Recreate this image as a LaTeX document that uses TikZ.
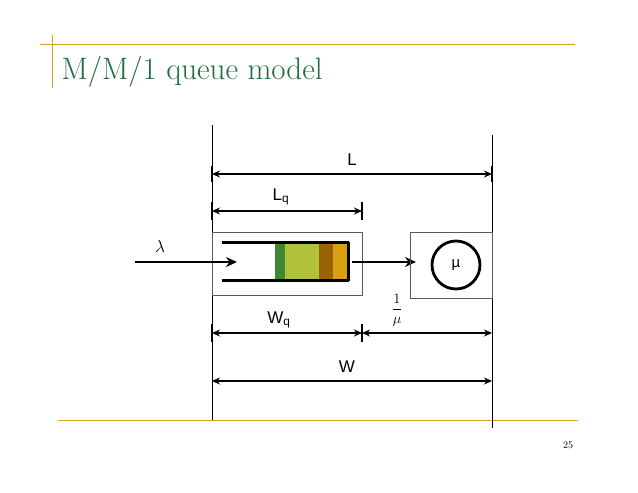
\documentclass[tikz,border=0pt]{standalone}
\usepackage{fontspec}
\newfontfamily\sans{Liberation Sans}
\usetikzlibrary{arrows.meta}
\definecolor{gold}{HTML}{D4A017}
\definecolor{ttl}{HTML}{1E6B3C}
\definecolor{qa}{HTML}{3C8A36}
\definecolor{qb}{HTML}{B0C23A}
\definecolor{qc}{HTML}{9A6200}
\definecolor{qd}{HTML}{D8A010}
\begin{document}
\begin{tikzpicture}[x=1pt,y=-1pt,
 dim/.style={line width=1.6pt,{Stealth[length=8pt,width=7pt]}-{Stealth[length=8pt,width=7pt]}},
 tick/.style={line width=1.6pt},
 lab/.style={font=\sans\fontsize{17}{17}\selectfont},
 box/.style={draw=gray!70!black,line width=0.6pt}]
\useasboundingbox (0,0) rectangle (638,493);
% slide frame
\draw[gold,line width=0.8pt] (40,44) -- (575,44);
\draw[gold,line width=0.8pt] (52,35) -- (52,88);
\draw[gold,line width=0.8pt] (58,420) -- (578,420);
\node[anchor=west,text=ttl,font=\fontsize{31}{31}\selectfont] (title) at (58,72) {M/M/1 queue model};
\node[font=\fontsize{10}{10}\selectfont] (pg) at (568,445) {25};
% verticals
\coordinate (v1t) at (212,125); \coordinate (v1b) at (212,420);
\coordinate (v2t) at (492,135); \coordinate (v2b) at (492,428);
\draw[line width=0.8pt] (v1t) -- (v1b); \draw[line width=0.8pt] (v2t) -- (v2b);
% L
\coordinate (La) at (212,174); \coordinate (Lb) at (492,174);
\draw[dim] (La) -- (Lb);
\draw[tick] (212,166) -- (212,182); \draw[tick] (492,166) -- (492,182);
\node[lab] (L) at (352,160) {L};
% Lq
\coordinate (Lqa) at (212,211); \coordinate (Lqb) at (362,211);
\draw[dim] (Lqa) -- (Lqb);
\draw[tick] (212,202) -- (212,220); \draw[tick] (362,202) -- (362,220);
\node[lab] (Lq) at (281,197) {L\textsubscript{q}};
% queue box
\draw[box] (212,232) rectangle (362,295);
\fill[qa] (275,242) rectangle (285,280);
\fill[qb] (285,242) rectangle (319,280);
\fill[qc] (319,242) rectangle (333,280);
\fill[qd] (333,242) rectangle (347,280);
\draw[line width=3pt,line join=round] (222,242) -- (348,242) -- (348,280) -- (222,280);
% arrows
\coordinate (in0) at (135,262); \coordinate (in1) at (237,262);
\draw[line width=2.5pt,-{Stealth[length=11pt,width=10pt]}] (in0) -- (in1);
\node[lab] (lam) at (160,246) {$\lambda$};
\coordinate (out0) at (352,262); \coordinate (out1) at (416,262);
\draw[line width=2.5pt,-{Stealth[length=11pt,width=10pt]}] (out0) -- (out1);
% server
\draw[box] (410,232) rectangle (492,298);
\node[circle,draw,line width=2.8pt,minimum size=48pt,inner sep=0pt,font=\sans\fontsize{15}{15}\selectfont] (srv) at (456,265) {µ};
\node[font=\fontsize{15}{15}\selectfont] (mu) at (397,310) {$\displaystyle\frac{1}{\mu}$};
% Wq
\coordinate (Wa) at (212,333); \coordinate (Wm) at (362,333); \coordinate (Wb) at (492,333);
\draw[dim] (Wa) -- (Wm); \draw[dim] (Wm) -- (Wb);
\draw[tick] (212,324) -- (212,342); \draw[tick] (362,324) -- (362,342);
\node[lab] (Wq) at (279,320) {W\textsubscript{q}};
% W
\coordinate (W1) at (212,381); \coordinate (W2) at (492,381);
\draw[dim] (W1) -- (W2);
\node[lab] (W) at (347,367) {W};
\end{tikzpicture}
\end{document}
